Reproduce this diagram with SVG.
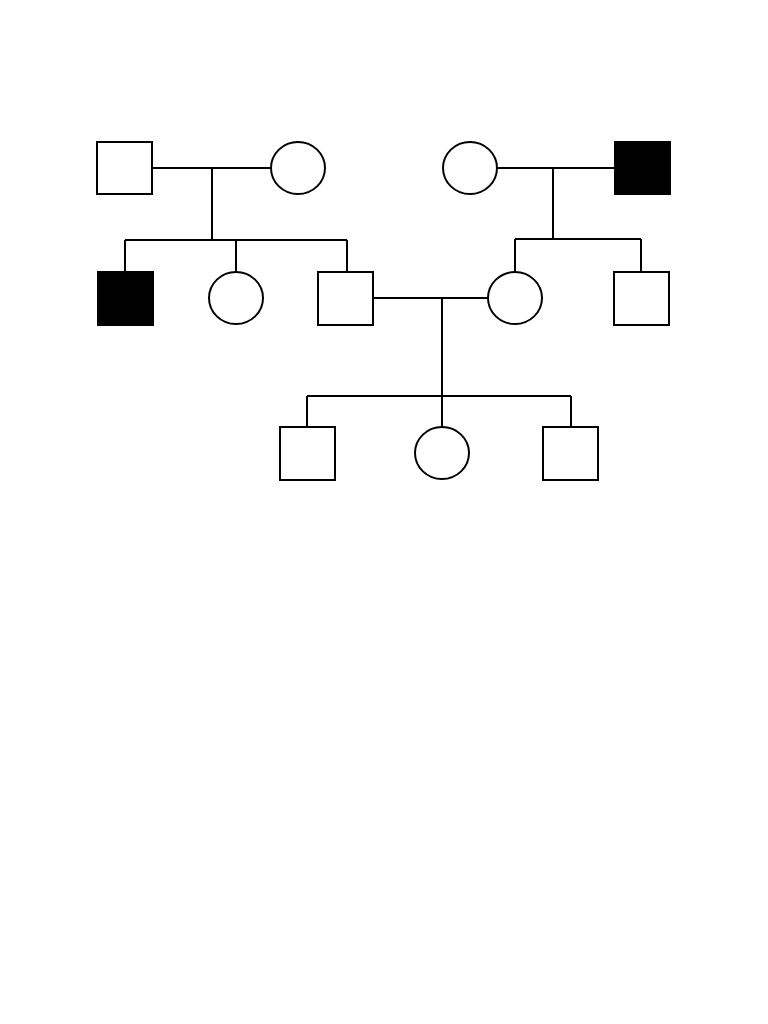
<svg xmlns="http://www.w3.org/2000/svg" width="768" height="1024" viewBox="0 0 768 1024">
<style>
.n{fill:#fff;stroke:#000;stroke-width:2}
.a{fill:#000;stroke:#000;stroke-width:2}
.c{stroke:#000;stroke-width:2;fill:none}
</style>
<rect width="768" height="1024" fill="#fff"/>
<g id="connectors" class="c">
<path d="M152 168H271M212 168V240M125 240H347M125 240V272M236 240V272M347 240V272"/>
<path d="M497 168H615M553 168V239M515 239H641M515 239V272M641 239V272"/>
<path d="M373 298H488M442 298V396M307 396H571M307 396V427M442 396V427M571 396V427"/>
</g>
<g id="g1m1"><rect class="n" x="97" y="142" width="55" height="52"/></g>
<g id="g1f1"><ellipse class="n" cx="298" cy="168" rx="27" ry="26"/></g>
<g id="g1f2"><ellipse class="n" cx="470" cy="168" rx="27" ry="26"/></g>
<g id="g1m2"><rect class="a" x="615" y="142" width="55" height="52"/></g>
<g id="g2m1"><rect class="a" x="98" y="272" width="55" height="53"/></g>
<g id="g2f1"><ellipse class="n" cx="236" cy="298" rx="27" ry="26"/></g>
<g id="g2m2"><rect class="n" x="318" y="272" width="55" height="53"/></g>
<g id="g2f2"><ellipse class="n" cx="515" cy="298" rx="27" ry="26"/></g>
<g id="g2m3"><rect class="n" x="614" y="272" width="55" height="53"/></g>
<g id="g3m1"><rect class="n" x="280" y="427" width="55" height="53"/></g>
<g id="g3f1"><ellipse class="n" cx="442" cy="453" rx="27" ry="26"/></g>
<g id="g3m2"><rect class="n" x="543" y="427" width="55" height="53"/></g>
</svg>
